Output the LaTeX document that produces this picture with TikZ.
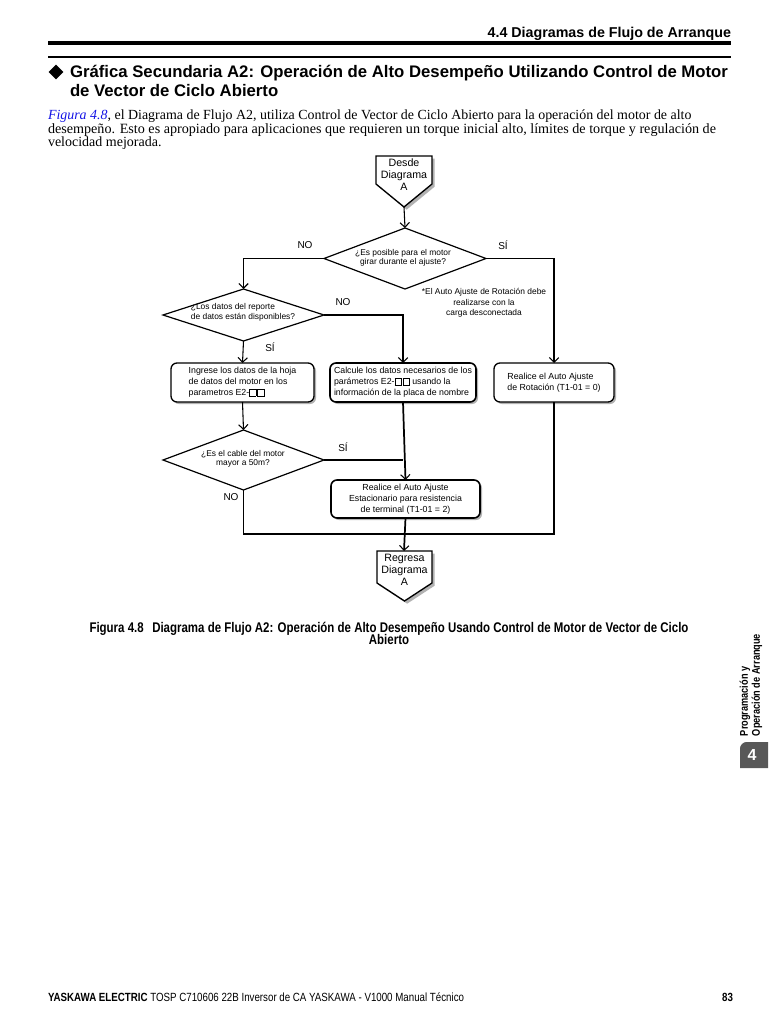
\documentclass[tikz,border=0pt]{standalone}
\usepackage{fontspec}
\setmainfont{Liberation Serif}
\setsansfont{Liberation Sans}
\newfontfamily\narrowfont[FakeStretch=0.82]{Liberation Sans}
\usetikzlibrary{arrows.meta,shapes.geometric,shadows}
\definecolor{linkblue}{RGB}{20,20,230}
\definecolor{tabgray}{RGB}{88,88,88}
\newcommand{\sqbox}{\begingroup\setlength{\fboxsep}{0pt}\setlength{\fboxrule}{0.45pt}\raisebox{0pt}{\fbox{\rule{0pt}{4.4pt}\hspace{4.4pt}}}\endgroup}
\begin{document}
\begin{tikzpicture}[x=0.75pt,y=-0.75pt,
  every node/.style={inner sep=0pt, outer sep=0pt},
  fc/.style={font=\sffamily\fontsize{6.3}{7.8}\selectfont},
  fcb/.style={font=\sffamily\fontsize{6.6}{8.1}\selectfont},
  fcd/.style={font=\sffamily\fontsize{6.3}{7.0}\selectfont},
  conn/.style={font=\sffamily\fontsize{8}{9}\selectfont, align=center},
  arr/.style={-{Straight Barb[length=3.5pt,width=7pt,line width=0.8pt]}},
  ln/.style={line width=0.8pt},
  lnb/.style={line width=1.3pt},
  dia/.style={draw, diamond, line width=0.9pt, inner sep=0pt},
  box/.style={draw, rounded corners=4.5pt, line width=1pt, fill=white,
    drop shadow={shadow xshift=1.5pt, shadow yshift=-1.5pt, fill=black!30, opacity=1}},
  pent/.style={draw, line width=1pt, fill=white,
    drop shadow={shadow xshift=2pt, shadow yshift=-2pt, fill=black!30, opacity=1}},
  yn/.style={font=\sffamily\fontsize{7.5}{9}\selectfont}
]
\useasboundingbox (0,0) rectangle (768,1024);
\fill[white] (0,0) rectangle (768,1024);

% ---- page header ----
\node[anchor=base east, font=\sffamily\bfseries\fontsize{10.7}{12}\selectfont] (hdr) at (731,38) {4.4 Diagramas de Flujo de Arranque};
\coordinate (r1a) at (48,43); \coordinate (r1b) at (731,43);
\draw[line width=2.3pt] (r1a) -- (r1b);
\coordinate (r2a) at (48,57); \coordinate (r2b) at (731,57);
\draw[line width=0.8pt] (r2a) -- (r2b);

% ---- heading ----
\node[diamond, fill=black, minimum width=11pt, minimum height=11pt] (bullet) at (56,72) {};
\node[anchor=base west, font=\sffamily\bfseries\fontsize{12.55}{14}\selectfont] (h1) at (70,78) {Gráfica Secundaria A2: Operación de Alto Desempeño Utilizando Control de Motor};
\node[anchor=base west, font=\sffamily\bfseries\fontsize{12.55}{14}\selectfont] (h2) at (70,97) {de Vector de Ciclo Abierto};

% ---- paragraph ----
\node[anchor=base west, font=\fontsize{10.45}{12}\selectfont] (p1) at (48,119) {\textcolor{linkblue}{\textit{Figura 4.8}}, el Diagrama de Flujo A2, utiliza Control de Vector de Ciclo Abierto para la operación del motor de alto};
\node[anchor=base west, font=\fontsize{10.6}{12}\selectfont] (p2) at (48,133) {desempeño. Esto es apropiado para aplicaciones que requieren un torque inicial alto, límites de torque y regulación de};
\node[anchor=base west, font=\fontsize{10.5}{12}\selectfont] (p3) at (48,146) {velocidad mejorada.};

% ---- start connector ----
\path[pent] (376,156) -- (432,156) -- (432,184) -- (404,207) -- (376,184) -- cycle;
\node[conn] (desde) at (404,175) {Desde\\Diagrama\\A};
\coordinate (dtip) at (404,207);

% ---- decisions ----
\node[dia, minimum width=121.5pt, minimum height=45.75pt] (q1) at (405,258.5) {};
\node[fcd, align=center] (q1t) at (403,257.5) {¿Es posible para el motor\\girar durante el ajuste?};

\node[dia, minimum width=120.75pt, minimum height=39pt] (q2) at (243.5,315) {};
\node[fc, align=left] (q2t) at (243,312.5) {¿Los datos del reporte\\de datos están disponibles?};

\node[dia, minimum width=120.75pt, minimum height=45pt] (q3) at (243.5,460) {};
\node[fcd, align=center] (q3t) at (243,458.5) {¿Es el cable del motor\\mayor a 50m?};

% ---- note ----
\node[fc, align=center] (note) at (484,303) {*El Auto Ajuste de Rotación debe\\realizarse con la\\carga desconectada};

% ---- process boxes ----
\node[box, minimum width=107.25pt, minimum height=29.25pt, fcb, align=left] (b1) at (242.5,382.5) {Ingrese los datos de la hoja\\de datos del motor en los\\parametros E2-\sqbox\kern0.8pt\sqbox};
\node[box, minimum width=109.5pt, minimum height=29.25pt, fcb, align=left, line width=1.2pt] (b2) at (403,382.5) {Calcule los datos necesarios de los\\parámetros E2-\sqbox\kern0.8pt\sqbox\ usando la\\información de la placa de nombre};
\node[box, minimum width=90pt, minimum height=29.25pt, fcb, align=left] (b3) at (554,382.5) {Realice el Auto Ajuste\\de Rotación (T1-01 = 0)};
\node[box, minimum width=111.75pt, minimum height=28.5pt, fcb, align=center, line width=1.2pt] (b4) at (405.5,499) {Realice el Auto Ajuste\\Estacionario para resistencia\\de terminal (T1-01 = 2)};

% ---- end connector ----
\coordinate (rtop) at (404,551);
\path[pent] (377,551) -- (432,551) -- (432,583) -- (404.5,601) -- (377,583) -- cycle;
\node[conn] (regresa) at (404.5,570) {Regresa\\Diagrama\\A};

% ---- connectors ----
\draw[ln, arr] (dtip) -- (q1.north);
\draw[ln, arr] (q1.west) -| (q2.north);
\draw[ln, arr] (q1.east) -| (b3.north);
\draw[lnb, arr] (q2.east) -| (b2.north);
\draw[ln, arr] (q2.south) -- (b1.north);
\draw[ln, arr] (b1.south) -- (q3.north);
\draw[lnb, arr] (b2.south) -- (b4.north);
\coordinate (sj) at (b2.south |- q3.east);
\draw[ln] (q3.east) -- (sj);
\coordinate (m) at (404,534);
\draw[ln] (q3.south) |- (m);
\draw[ln] (b3.south) |- (m);
\draw[lnb, arr] (b4.south) -- (rtop);

% ---- yes/no labels ----
\node[yn] (no1) at (305,245.5) {NO};
\node[yn] (si1) at (503,245.5) {SÍ};
\node[yn] (no2) at (343,302.5) {NO};
\node[yn] (si2) at (270,347.5) {SÍ};
\node[yn] (si3) at (343,447.5) {SÍ};
\node[yn] (no3) at (231,497.5) {NO};

% ---- caption ----
\node[anchor=base, font=\narrowfont\bfseries\fontsize{10.5}{12}\selectfont] (cap1) at (389,632) {Figura 4.8\hspace{4pt} Diagrama de Flujo A2: Operación de Alto Desempeño Usando Control de Motor de Vector de Ciclo};
\node[anchor=base, font=\narrowfont\bfseries\fontsize{10.5}{12}\selectfont] (cap2) at (389,644) {Abierto};

% ---- side tab ----
\node[rotate=90, anchor=west, align=left, font=\narrowfont\bfseries\fontsize{8.4}{9}\selectfont] (side) at (751,736) {Programación y\\Operación de Arranque};
\fill[tabgray] (740,768) [rounded corners=5pt]-- (740,742) [sharp corners]-- (768,742) -- (768,768) -- cycle;
\node[text=white, font=\sffamily\bfseries\fontsize{12}{14}\selectfont] (tabnum) at (752,755) {4};

% ---- footer ----
\node[anchor=base west, font=\narrowfont\fontsize{8.9}{10}\selectfont] (foot) at (48,1001) {\textbf{YASKAWA ELECTRIC} TOSP C710606 22B Inversor de CA YASKAWA - V1000 Manual Técnico};
\node[anchor=base east, font=\narrowfont\bfseries\fontsize{8.9}{10}\selectfont] (pg) at (733,1001) {83};
\end{tikzpicture}
\end{document}
